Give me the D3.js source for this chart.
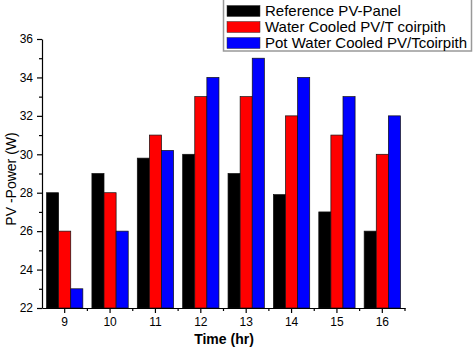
<!DOCTYPE html>
<html>
<head>
<meta charset="utf-8">
<script src="https://cdn.jsdelivr.net/npm/d3@7"></script>
<style>
  body { margin: 0; background: #fff; }
  svg { display: block; font-family: "Liberation Sans", Arial, sans-serif; }
  .axis path, .axis line { stroke: #000; stroke-width: 1.2; }
  .axis text { font-size: 12px; fill: #000; }
</style>
</head>
<body>
<div class="chart"></div>
<script>
const hours = ['9', '10', '11', '12', '13', '14', '15', '16'];
const seriesNames = ['Reference PV-Panel', 'Water Cooled PV/T coirpith', 'Pot Water Cooled PV/Tcoirpith'];
const referencePanel = [28, 29, 29.8, 30, 29, 27.9, 27, 26];
const waterCooled = [26, 28, 31, 33, 33, 32, 31, 30];
const potWaterCooled = [23, 26, 30.2, 34, 35, 34, 33, 32];
const colors = ['#000000', '#ff0000', '#0000ff'];
const yTicks = [22, 24, 26, 28, 30, 32, 34, 36];

const width = 474;
const height = 348;
const margin = { top: 39, right: 69, bottom: 40, left: 42 };
const allSeries = [referencePanel, waterCooled, potWaterCooled];

const svg = d3.select('.chart')
  .append('svg')
  .attr('width', width)
  .attr('height', height);

const x = d3.scaleBand()
  .domain(hours)
  .range([margin.left, width - margin.right])
  .paddingInner(0.2)
  .paddingOuter(0.1);

const xSub = d3.scaleBand()
  .domain(d3.range(allSeries.length))
  .range([0, x.bandwidth()]);

const y = d3.scaleLinear()
  .domain([22, 36])
  .range([height - margin.bottom, margin.top]);

// bars
allSeries.forEach((vals, s) => {
  svg.append('g')
    .selectAll('rect')
    .data(vals)
    .enter()
    .append('rect')
    .attr('x', (d, i) => x(hours[i]) + xSub(s))
    .attr('y', d => y(d))
    .attr('width', xSub.bandwidth())
    .attr('height', d => y(22) - y(d))
    .attr('fill', colors[s])
    .attr('stroke', '#111')
    .attr('stroke-width', 0.7);
});

// y axis, major + minor ticks
svg.append('g')
  .attr('class', 'axis')
  .attr('transform', `translate(${margin.left},0)`)
  .call(d3.axisLeft(y).tickValues(yTicks).tickSize(5).tickSizeOuter(0).tickPadding(4));

svg.append('g')
  .attr('class', 'axis')
  .attr('transform', `translate(${margin.left},0)`)
  .call(d3.axisLeft(y).tickValues(d3.range(23, 36, 2)).tickSize(3).tickFormat(''))
  .select('.domain').remove();

// x axis
const step = x.step();
svg.append('g')
  .attr('class', 'axis')
  .attr('transform', `translate(0,${height - margin.bottom})`)
  .call(d3.axisBottom(x).tickSize(5).tickSizeOuter(0).tickPadding(4));

const boundaries = hours.map(h => x(h) + x.bandwidth() / 2 + step / 2);
svg.append('g')
  .selectAll('line')
  .data(boundaries)
  .enter()
  .append('line')
  .attr('x1', d => d)
  .attr('x2', d => d)
  .attr('y1', height - margin.bottom)
  .attr('y2', height - margin.bottom + 3)
  .attr('stroke', '#000')
  .attr('stroke-width', 1.2);

// axis titles
svg.append('text')
  .attr('x', 224)
  .attr('y', 344)
  .attr('text-anchor', 'middle')
  .attr('font-size', 14)
  .attr('font-weight', 'bold')
  .text('Time (hr)');

svg.append('text')
  .attr('transform', 'translate(16,179) rotate(-90)')
  .attr('text-anchor', 'middle')
  .attr('font-size', 14)
  .text('PV -Power (W)');

// legend
const legend = svg.append('g');
legend.append('rect')
  .attr('x', 223.5)
  .attr('y', -1)
  .attr('width', 248)
  .attr('height', 52)
  .attr('fill', '#fff')
  .attr('stroke', '#999')
  .attr('stroke-width', 1.5);

seriesNames.forEach((name, s) => {
  const ly = 11 + s * 16;
  legend.append('rect')
    .attr('x', 227)
    .attr('y', ly - 5.5)
    .attr('width', 33)
    .attr('height', 11)
    .attr('fill', colors[s])
    .attr('stroke', '#333')
    .attr('stroke-width', 0.5);
  legend.append('text')
    .attr('x', 265)
    .attr('y', ly)
    .attr('dy', '0.35em')
    .attr('font-size', 15)
    .text(name);
});
</script>
</body>
</html>
